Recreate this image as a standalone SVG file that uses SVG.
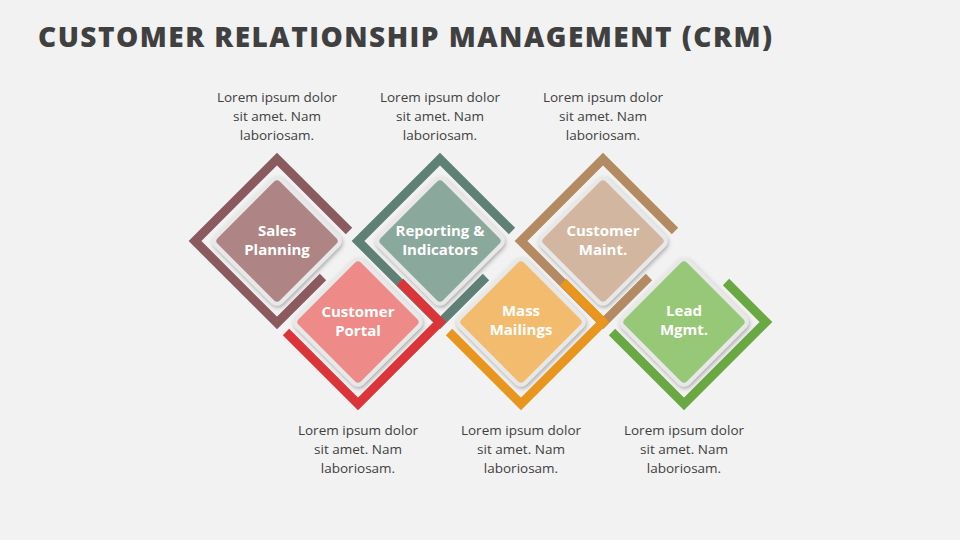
<svg xmlns="http://www.w3.org/2000/svg" width="960" height="540" viewBox="0 0 960 540">
<style>
.t{font-family:"Open Sans","Liberation Sans",sans-serif;font-weight:700;font-size:15px;fill:#fff;text-anchor:middle}
.d{font-family:"Open Sans","Liberation Sans",sans-serif;font-size:13.5px;fill:#404040;text-anchor:middle}
.f{fill:none;stroke-width:9;stroke-linejoin:miter}
.i{stroke:#E8E8E8;stroke-width:4}
</style>
<defs>
<filter id="sh" x="-20%" y="-20%" width="140%" height="140%"><feDropShadow dx="1" dy="2" stdDeviation="2" flood-color="#000" flood-opacity="0.3"/></filter>
<rect id="in" x="-46" y="-46" width="92" height="92" rx="6" transform="rotate(45)"/>
<path id="ft" d="M72,-10 L0,-82 L-82,0 L0,82 L46,36"/>
<path id="fb" d="M-72,10 L0,82 L82,0 L42,-40"/>
</defs>
<rect width="960" height="540" fill="#F2F2F2"/>
<text x="38" y="47" font-family="'Open Sans','Liberation Sans',sans-serif" font-weight="800" font-size="28" fill="#404040" textLength="734">CUSTOMER RELATIONSHIP MANAGEMENT (CRM)</text>
<g id="connectors"/>
<g id="frames">
<use href="#ft" x="277" y="241" class="f" stroke="#8B5A5F"/>
<use href="#ft" x="440" y="241" class="f" stroke="#5F8075"/>
<use href="#ft" x="603" y="241" class="f" stroke="#B48A63"/>
<use href="#fb" x="358" y="322" class="f" stroke="#DC3539"/>
<use href="#fb" x="521" y="322" class="f" stroke="#E8961E"/>
<use href="#fb" x="684" y="322" class="f" stroke="#6AA844"/>
</g>
<g id="sales"><use href="#in" x="277" y="241" class="i" fill="#AE8485" filter="url(#sh)"/><text class="t" x="277" y="236">Sales</text><text class="t" x="277" y="255">Planning</text></g>
<g id="reporting"><use href="#in" x="440" y="241" class="i" fill="#8BA89D" filter="url(#sh)"/><text class="t" x="440" y="236">Reporting &amp;</text><text class="t" x="440" y="255">Indicators</text></g>
<g id="maint"><use href="#in" x="603" y="241" class="i" fill="#D2B6A0" filter="url(#sh)"/><text class="t" x="603" y="236">Customer</text><text class="t" x="603" y="255">Maint.</text></g>
<g id="portal"><use href="#in" x="358" y="322" class="i" fill="#EE8A88" filter="url(#sh)"/><text class="t" x="358" y="317">Customer</text><text class="t" x="358" y="336">Portal</text></g>
<g id="mass"><use href="#in" x="521" y="322" class="i" fill="#F2BB6E" filter="url(#sh)"/><text class="t" x="521" y="316">Mass</text><text class="t" x="521" y="335">Mailings</text></g>
<g id="lead"><use href="#in" x="684" y="322" class="i" fill="#96C878" filter="url(#sh)"/><text class="t" x="684" y="316">Lead</text><text class="t" x="684" y="335">Mgmt.</text></g>
<g id="desc">
<text class="d" x="277" y="102">Lorem ipsum dolor</text><text class="d" x="277" y="121">sit amet. Nam</text><text class="d" x="277" y="140">laboriosam.</text>
<text class="d" x="440" y="102">Lorem ipsum dolor</text><text class="d" x="440" y="121">sit amet. Nam</text><text class="d" x="440" y="140">laboriosam.</text>
<text class="d" x="603" y="102">Lorem ipsum dolor</text><text class="d" x="603" y="121">sit amet. Nam</text><text class="d" x="603" y="140">laboriosam.</text>
<text class="d" x="358" y="435">Lorem ipsum dolor</text><text class="d" x="358" y="454">sit amet. Nam</text><text class="d" x="358" y="473">laboriosam.</text>
<text class="d" x="521" y="435">Lorem ipsum dolor</text><text class="d" x="521" y="454">sit amet. Nam</text><text class="d" x="521" y="473">laboriosam.</text>
<text class="d" x="684" y="435">Lorem ipsum dolor</text><text class="d" x="684" y="454">sit amet. Nam</text><text class="d" x="684" y="473">laboriosam.</text>
</g>
</svg>
